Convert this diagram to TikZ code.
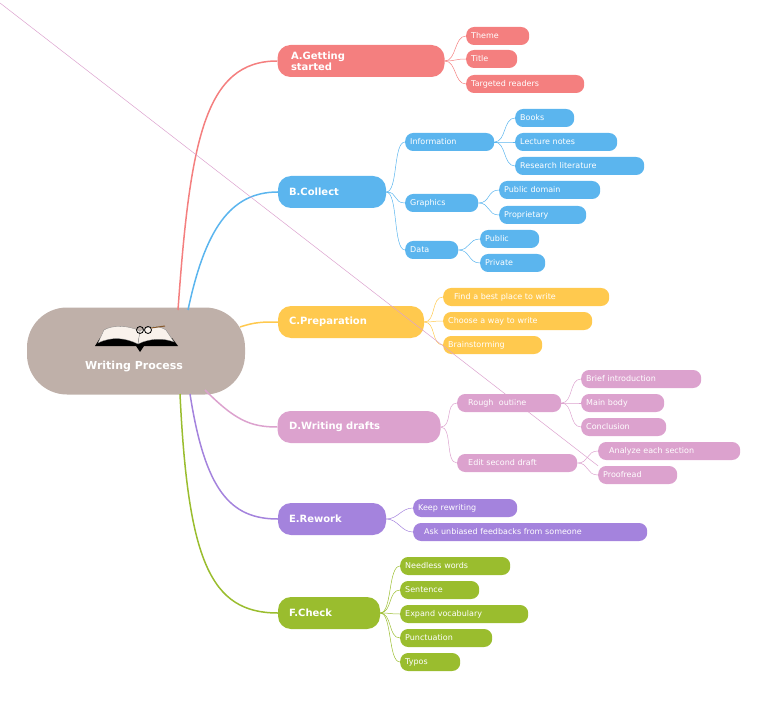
\documentclass[tikz,border=0pt]{standalone}
\usepackage{fontspec}
\setmainfont{DejaVu Sans}
\begin{document}
\begin{tikzpicture}[x=1pt,y=-1pt,
  leaf/.style={rounded corners=8pt,text=white,font=\fontsize{8}{9}\selectfont,inner xsep=5pt,minimum height=18pt,inner ysep=0pt,align=left,anchor=west},
  main/.style={rounded corners=13pt,text=white,font=\bfseries\fontsize{10}{11}\selectfont,minimum height=32pt,inner xsep=0pt,inner ysep=0pt,align=left},
  br/.style={line width=1.5pt},
  tw/.style={line width=0.5pt}]
\definecolor{cA}{HTML}{F47F7F}
\definecolor{cB}{HTML}{5BB5EE}
\definecolor{cC}{HTML}{FFC94E}
\definecolor{cD}{HTML}{DCA2CE}
\definecolor{cE}{HTML}{A483DD}
\definecolor{cF}{HTML}{9ABD2E}
\definecolor{cM}{HTML}{BFB0A9}
\useasboundingbox (0,0) rectangle (768,703);
% central
\node[fill=cM,rounded corners=40pt,minimum width=218pt,minimum height=87pt] (c) at (136,351) {};
\node[text=white,font=\bfseries\fontsize{11}{12}\selectfont] (ct) at (134,367) {Writing Process};
% book
\fill[black] (95,346) -- (136,346) -- (140,352) -- (144,346) -- (178,346) -- (172,338) -- (100,338) -- cycle;
\fill[white!90!brown,draw=gray,line width=0.3pt] (98,343) .. controls (112,336) and (126,338) .. (138,344) -- (140,331) .. controls (128,325) and (112,325) .. (104,330) -- cycle;
\fill[white!90!brown,draw=gray,line width=0.3pt] (138,344) .. controls (150,338) and (164,338) .. (174,342) -- (166,330) .. controls (158,325) and (148,325) .. (140,331) -- cycle;
\draw[black,line width=0.8pt] (140,330) circle (3.5pt) (148,330) circle (3.5pt);
\draw[brown!70!black,line width=1pt] (151,328) -- (165,326);
% main nodes
\node[main,fill=cA,minimum width=167pt,text width=140pt] (A) at (361,61) {A.Getting\\started};
\node[main,fill=cB,minimum width=108pt,text width=86pt] (B) at (332,192) {B.Collect};
\node[main,fill=cC,minimum width=146pt,text width=124pt] (C) at (351,322) {C.Preparation};
\node[main,fill=cD,minimum width=163pt,text width=140pt] (D) at (359,427) {D.Writing drafts};
\node[main,fill=cE,minimum width=108pt,text width=86pt] (E) at (332,519) {E.Rework};
\node[main,fill=cF,minimum width=102pt,text width=80pt] (F) at (329,613) {F.Check};
\coordinate (oA) at (178,310); \coordinate (oB) at (188,310);
\coordinate (oC) at (240,327); \coordinate (oD) at (205,390);
\coordinate (oE) at (190,394); \coordinate (oF) at (180,394);
\draw[br,cA] (oA) .. controls (190,140) and (205,61) .. (A.west);
\draw[br,cB] (oB) .. controls (205,230) and (230,192) .. (B.west);
\draw[br,cC] (oC) .. controls (255,322) and (262,322) .. (C.west);
\draw[br,cD] (oD) .. controls (235,420) and (250,427) .. (D.west);
\draw[br,cE] (oE) .. controls (205,490) and (230,519) .. (E.west);
\draw[br,cF] (oF) .. controls (188,560) and (210,613) .. (F.west);
% A leaves
\node[leaf,fill=cA,text width=53pt] (a1) at (466,36) {Theme};
\node[leaf,fill=cA,text width=41pt] (a2) at (466,59) {Title};
\node[leaf,fill=cA,text width=108pt] (a3) at (466,84) {Targeted readers};
% B
\node[leaf,fill=cB,text width=79pt] (b1) at (405,142) {Information};
\node[leaf,fill=cB,text width=63pt] (b2) at (405,203) {Graphics};
\node[leaf,fill=cB,text width=43pt] (b3) at (405,250) {Data};
\node[leaf,fill=cB,text width=49pt] (b11) at (515,118) {Books};
\node[leaf,fill=cB,text width=92pt] (b12) at (515,142) {Lecture notes};
\node[leaf,fill=cB,text width=119pt] (b13) at (515,166) {Research literature};
\node[leaf,fill=cB,text width=91pt] (b21) at (499,190) {Public domain};
\node[leaf,fill=cB,text width=77pt] (b22) at (499,215) {Proprietary};
\node[leaf,fill=cB,text width=49pt] (b31) at (480,239) {Public};
\node[leaf,fill=cB,text width=55pt] (b32) at (480,263) {Private};
% C
\node[leaf,fill=cC,text width=156pt] (c1) at (443,297) {\hspace{6pt}Find a best place to write};
\node[leaf,fill=cC,text width=139pt] (c2) at (443,321) {Choose a way to write};
\node[leaf,fill=cC,text width=89pt] (c3) at (443,345) {Brainstorming};
% D
\node[leaf,fill=cD,text width=94pt] (d1) at (457,403) {\hspace{6pt}Rough\ \ outline};
\node[leaf,fill=cD,text width=110pt] (d2) at (457,463) {\hspace{6pt}Edit second draft};
\node[leaf,fill=cD,text width=110pt] (d11) at (581,379) {Brief introduction};
\node[leaf,fill=cD,text width=73pt] (d12) at (581,403) {Main body};
\node[leaf,fill=cD,text width=75pt] (d13) at (581,427) {Conclusion};
\node[leaf,fill=cD,text width=132pt] (d21) at (598,451) {\hspace{6pt}Analyze each section};
\node[leaf,fill=cD,text width=69pt] (d22) at (598,475) {Proofread};
% E
\node[leaf,fill=cE,text width=94pt] (e1) at (413,508) {Keep rewriting};
\node[leaf,fill=cE,text width=224pt] (e2) at (413,532) {\hspace{6pt}Ask unbiased feedbacks from someone};
% F
\node[leaf,fill=cF,text width=100pt] (f1) at (400,566) {Needless words};
\node[leaf,fill=cF,text width=69pt] (f2) at (400,590) {Sentence};
\node[leaf,fill=cF,text width=118pt] (f3) at (400,614) {Expand vocabulary};
\node[leaf,fill=cF,text width=82pt] (f4) at (400,638) {Punctuation};
\node[leaf,fill=cF,text width=50pt] (f5) at (400,662) {Typos};
% thin connectors
\foreach \p/\k/\col in {A/a1/cA,A/a2/cA,A/a3/cA,B/b1/cB,B/b2/cB,B/b3/cB,b1/b11/cB,b1/b12/cB,b1/b13/cB,b2/b21/cB,b2/b22/cB,b3/b31/cB,b3/b32/cB,C/c1/cC,C/c2/cC,C/c3/cC,D/d1/cD,D/d2/cD,d1/d11/cD,d1/d12/cD,d1/d13/cD,d2/d21/cD,d2/d22/cD,E/e1/cE,E/e2/cE,F/f1/cF,F/f2/cF,F/f3/cF,F/f4/cF,F/f5/cF}
  \draw[tw,\col] (\p.east) .. controls +(12,0) and +(-12,0) .. (\k.west);
% stray diagonal line
\coordinate (s0) at (0,3);
\draw[cD,line width=0.5pt] (s0) -- (d22.north west);
\end{tikzpicture}
\end{document}
